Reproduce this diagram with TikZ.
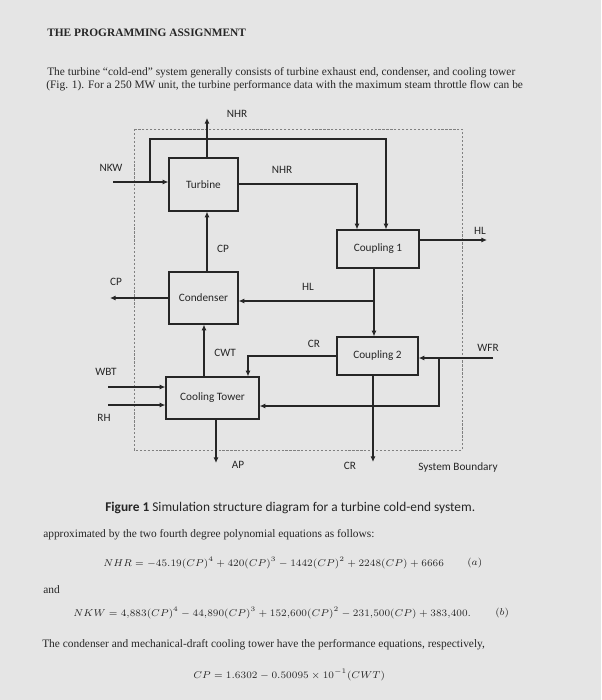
\RequirePackage{fix-cm}
\documentclass[tikz,border=0pt]{standalone}
\usepackage{amsmath}
\usepackage{fontspec}
\setmainfont{Liberation Serif}
\newfontfamily\calfont{Carlito}
\usetikzlibrary{arrows.meta}
\definecolor{paper}{RGB}{229,229,229}
\definecolor{ink}{RGB}{38,38,38}
\tikzset{
  unit/.style = {draw = ink, line width = 0.9pt, text = ink, inner sep = 0pt, font = \calfont\fontsize{8}{9}\selectfont},
  lab/.style = {text = ink, inner sep = 0pt, font = \calfont\fontsize{8}{9}\selectfont},
  txt/.style = {anchor = west, text = ink, inner sep = 0pt, font = \fontsize{8.1}{9}\selectfont},
  eqn/.style = {anchor = west, text = ink, inner sep = 0pt, font = \fontsize{7.05}{9}\selectfont},
  flow/.style = {draw = ink, line width = 0.9pt, -{Latex[length=4pt, width=3.6pt]}},
  bound/.style = {draw = gray, line width = 0.6pt, dash pattern = on 1.6pt off 1.2pt}
}
\begin{document}
\begin{tikzpicture}[x = 0.025cm, y = -0.025cm]
\fill[paper] (0,0) rectangle (601,700);
\useasboundingbox (0,0) rectangle (601,700);

\node[txt, font = \bfseries\fontsize{8.1}{9}\selectfont] (head) at (47,33) {THE PROGRAMMING ASSIGNMENT};
\node[txt] (par1) at (47,73) {The turbine “cold-end” system generally consists of turbine exhaust end, condenser, and cooling tower};
\node[txt] (par2) at (46,86) {(Fig. 1). For a 250 MW unit, the turbine performance data with the maximum steam throttle flow can be};

\draw[bound] (134,129) rectangle (462,450);

\node[unit, minimum width = 1.725cm, minimum height = 1.325cm] (turb) at (203.5,184.5) {Turbine};
\node[unit, minimum width = 1.725cm, minimum height = 1.3cm] (cond) at (203.5,298) {Condenser};
\node[unit, minimum width = 2.325cm, minimum height = 1.05cm] (tower) at (212.5,398) {Cooling Tower};
\node[unit, minimum width = 2.05cm, minimum height = 0.95cm] (cpl1) at (378,249) {Coupling 1};
\node[unit, minimum width = 2.025cm, minimum height = 0.95cm] (cpl2) at (377.5,356) {Coupling 2};

\coordinate (nkw) at (113,182);
\coordinate (tap) at (150,182);
\coordinate (loop) at (386,139);
\coordinate (nhr1) at (207,118);
\coordinate (nhr2) at (357,184);
\coordinate (cpout) at (110,298);
\coordinate (hlx) at (374,301);
\coordinate (hlout) at (487,240);
\coordinate (cwt) at (204,353);
\coordinate (wbt) at (108,387);
\coordinate (rh) at (108,405);
\coordinate (ap) at (216,463);
\coordinate (crin) at (248,356);
\coordinate (wfr) at (493,358);
\coordinate (wtap) at (439,358);
\coordinate (ret) at (439,406);
\coordinate (crout) at (373,462);

\draw[flow] (nkw) -- (nkw -| turb.west);
\draw[flow] (tap) |- (loop) -- (loop |- cpl1.north);
\draw[flow] (nhr1 |- turb.north) -- (nhr1);
\draw[flow] (turb.east |- nhr2) -- (nhr2) -- (nhr2 |- cpl1.north);
\draw[flow] (nhr1 |- cond.north) -- (nhr1 |- turb.south);
\draw[flow] (cond.west |- cpout) -- (cpout);
\draw[flow] (hlx |- cpl1.south) -- (hlx |- cpl2.north);
\draw[flow] (hlx) -- (hlx -| cond.east);
\draw[flow] (cpl1.east |- hlout) -- (hlout);
\draw[flow] (cwt |- tower.north) -- (cwt |- cond.south);
\draw[flow] (wbt) -- (wbt -| tower.west);
\draw[flow] (rh) -- (rh -| tower.west);
\draw[flow] (ap |- tower.south) -- (ap);
\draw[flow] (cpl2.west |- crin) -- (crin) -- (crin |- tower.north);
\draw[flow] (wfr) -- (wfr -| cpl2.east);
\draw[flow] (wtap) -- (ret) -- (ret -| tower.east);
\draw[flow] (crout |- cpl2.south) -- (crout);

\node[lab] (tnhr1) at (237,114) {NHR};
\node[lab] (tnkw) at (111,168) {NKW};
\node[lab] (tnhr2) at (282,170) {NHR};
\node[lab] (tcp1) at (223,249) {CP};
\node[lab] (tcp2) at (116,282) {CP};
\node[lab] (thl1) at (308,287) {HL};
\node[lab] (thl2) at (480,231) {HL};
\node[lab] (tcr1) at (314,344) {CR};
\node[lab] (tcwt) at (225,353) {CWT};
\node[lab] (twfr) at (488,348) {WFR};
\node[lab] (twbt) at (106,372) {WBT};
\node[lab] (trh) at (104,418) {RH};
\node[lab] (tap2) at (238,465) {AP};
\node[lab] (tcr2) at (350,466) {CR};
\node[lab] (tsys) at (458,467) {System Boundary};

\node[txt, font = \calfont\fontsize{9.5}{11}\selectfont] (cap) at (105,508) {\textbf{Figure 1} Simulation structure diagram for a turbine cold-end system.};
\node[txt] (par3) at (43,535) {approximated by the two fourth degree polynomial equations as follows:};
\node[eqn] (eqa) at (103,563) {$NHR = -45.19(CP)^4 + 420(CP)^3 - 1442(CP)^2 + 2248(CP) + 6666$};
\node[eqn] (taga) at (467,563) {$(a)$};
\node[txt] (par4) at (43,590) {and};
\node[eqn] (eqb) at (73,613) {$NKW = 4{,}883(CP)^4 - 44{,}890(CP)^3 + 152{,}600(CP)^2 - 231{,}500(CP) + 383{,}400.$};
\node[eqn] (tagb) at (495,613) {$(b)$};
\node[txt] (par5) at (42,645) {The condenser and mechanical-draft cooling tower have the performance equations, respectively,};
\node[eqn] (eqc) at (193,675) {$CP = 1.6302 - 0.50095 \times 10^{-1}(CWT)$};
\end{tikzpicture}
\end{document}
